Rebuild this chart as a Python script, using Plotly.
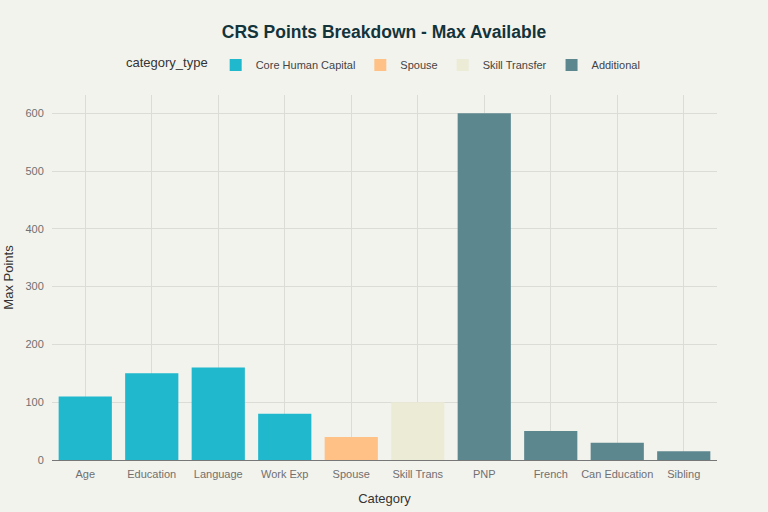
import plotly.graph_objects as go

categories = ["Age", "Education", "Language", "Work Exp", "Spouse", "Skill Trans",
              "PNP", "French", "Can Education", "Sibling"]
max_points = [110, 150, 160, 80, 40, 100, 600, 50, 30, 15]
category_types = ["Core Human Capital", "Core Human Capital", "Core Human Capital",
                  "Core Human Capital", "Spouse", "Skill Transfer", "Additional",
                  "Additional", "Additional", "Additional"]
type_order = ["Core Human Capital", "Spouse", "Skill Transfer", "Additional"]
type_colors = ["#1FB8CD", "#FFC185", "#ECEBD5", "#5D878F"]

fig = go.Figure()
for t, c in zip(type_order, type_colors):
    xs = [cat for cat, ct in zip(categories, category_types) if ct == t]
    ys = [v for v, ct in zip(max_points, category_types) if ct == t]
    fig.add_trace(go.Bar(x=xs, y=ys, name=t, marker_color=c, marker_line_width=0))

FONT = "Liberation Sans, Arial, Helvetica, sans-serif"
fig.update_layout(
    width=768, height=512,
    paper_bgcolor="#F3F3EE", plot_bgcolor="#F3F3EE",
    font=dict(family=FONT, color="#333333", size=12),
    title=dict(text="<b>CRS Points Breakdown - Max Available</b>", x=0.5, xanchor="center",
               y=0.937, yanchor="middle", font=dict(size=17.5, color="#13343B", family=FONT)),
    margin=dict(l=52, r=51, t=95, b=52),
    barmode="relative",
    legend=dict(orientation="h", x=0.5, xanchor="center", y=1.082, yanchor="middle",
                title=dict(text="category_type", font=dict(size=13, color="#333333")),
                font=dict(size=11, color="#444444")),
    xaxis=dict(title=dict(text="Category", font=dict(size=13, color="#333333"), standoff=14),
               categoryorder="array", categoryarray=categories, automargin=False,
               showgrid=True, gridcolor="#DCDCD6", showline=True, linecolor="#777777",
               ticks="outside", ticklen=4, tickcolor="rgba(0,0,0,0)",
               tickfont=dict(size=11, color="#707070")),
    yaxis=dict(title=dict(text="Max Points", font=dict(size=13, color="#333333"), standoff=8),
               showgrid=True, gridcolor="#DCDCD6", zeroline=False, automargin=False,
               ticks="outside", ticklen=5, tickcolor="rgba(0,0,0,0)",
               tickfont=dict(size=11, color="#707070")),
)
fig.write_html("out.html")
